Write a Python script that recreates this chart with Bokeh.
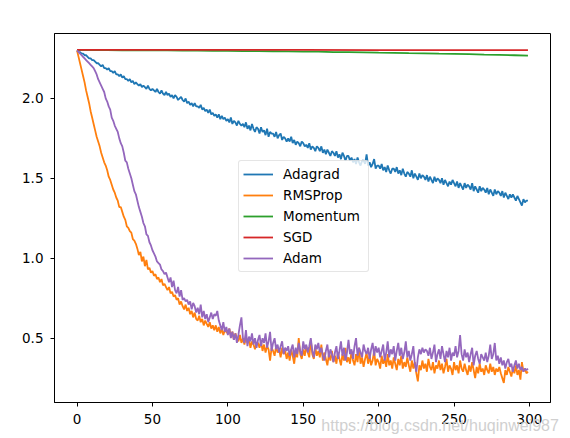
from bokeh.plotting import figure
from bokeh.models import Range1d, FixedTicker, PrintfTickFormatter, Label
from bokeh.embed import file_html
from bokeh.resources import INLINE

# ---------------- data ----------------
steps = list(range(300))

adagrad = [
    2.30, 2.29, 2.29, 2.28, 2.28, 2.27, 2.27, 2.26, 2.25, 2.25,
    2.24, 2.24, 2.23, 2.22, 2.22, 2.21, 2.20, 2.21, 2.19, 2.19,
    2.18, 2.19, 2.17, 2.17, 2.16, 2.17, 2.15, 2.15, 2.14, 2.15,
    2.13, 2.14, 2.12, 2.12, 2.11, 2.12, 2.10, 2.11, 2.09, 2.10,
    2.09, 2.08, 2.09, 2.07, 2.08, 2.07, 2.06, 2.08, 2.06, 2.05,
    2.06, 2.05, 2.04, 2.06, 2.04, 2.03, 2.05, 2.03, 2.02, 2.04,
    2.02, 2.03, 2.01, 2.02, 2.00, 2.02, 2.01, 1.99, 2.00, 2.01,
    1.99, 1.98, 2.00, 1.97, 1.98, 1.96, 1.97, 1.95, 1.97, 1.95,
    1.95, 1.94, 1.96, 1.93, 1.94, 1.92, 1.93, 1.91, 1.93, 1.90,
    1.91, 1.89, 1.90, 1.88, 1.90, 1.87, 1.89, 1.87, 1.88, 1.86,
    1.87, 1.85, 1.88, 1.84, 1.86, 1.85, 1.83, 1.86, 1.84, 1.83,
    1.84, 1.82, 1.85, 1.81, 1.83, 1.80, 1.84, 1.81, 1.79, 1.82,
    1.81, 1.78, 1.82, 1.79, 1.80, 1.77, 1.81, 1.76, 1.79, 1.78,
    1.78, 1.76, 1.79, 1.75, 1.77, 1.78, 1.74, 1.76, 1.75, 1.73,
    1.75, 1.73, 1.76, 1.72, 1.74, 1.71, 1.73, 1.72, 1.70, 1.73,
    1.72, 1.70, 1.71, 1.69, 1.72, 1.68, 1.70, 1.69, 1.67, 1.70,
    1.69, 1.67, 1.70, 1.66, 1.68, 1.65, 1.68, 1.66, 1.64, 1.67,
    1.66, 1.64, 1.67, 1.63, 1.65, 1.62, 1.66, 1.64, 1.61, 1.64,
    1.64, 1.61, 1.63, 1.60, 1.62, 1.59, 1.63, 1.60, 1.58, 1.61,
    1.61, 1.59, 1.65, 1.58, 1.60, 1.57, 1.59, 1.62, 1.56, 1.58,
    1.58, 1.56, 1.59, 1.55, 1.57, 1.54, 1.58, 1.55, 1.53, 1.56,
    1.56, 1.54, 1.57, 1.53, 1.55, 1.52, 1.56, 1.53, 1.51, 1.54,
    1.53, 1.51, 1.55, 1.50, 1.53, 1.51, 1.49, 1.53, 1.50, 1.52,
    1.51, 1.49, 1.52, 1.48, 1.51, 1.49, 1.47, 1.51, 1.48, 1.50,
    1.49, 1.47, 1.50, 1.46, 1.49, 1.47, 1.45, 1.48, 1.46, 1.49,
    1.47, 1.45, 1.48, 1.44, 1.47, 1.45, 1.43, 1.47, 1.44, 1.46,
    1.45, 1.43, 1.47, 1.42, 1.45, 1.43, 1.41, 1.45, 1.42, 1.44,
    1.43, 1.41, 1.44, 1.40, 1.43, 1.41, 1.39, 1.43, 1.40, 1.42,
    1.41, 1.39, 1.42, 1.38, 1.41, 1.39, 1.37, 1.40, 1.38, 1.40,
    1.38, 1.36, 1.39, 1.37, 1.35, 1.33, 1.37, 1.35, 1.36, 1.36,
]

rmsprop = [
    2.30, 2.26, 2.22, 2.18, 2.14, 2.10, 2.05, 2.01, 1.97, 1.92,
    1.88, 1.84, 1.80, 1.76, 1.73, 1.70, 1.66, 1.63, 1.60, 1.58,
    1.55, 1.51, 1.49, 1.46, 1.43, 1.41, 1.38, 1.36, 1.32, 1.32,
    1.29, 1.26, 1.24, 1.20, 1.19, 1.17, 1.16, 1.12, 1.11, 1.09,
    1.06, 1.02, 1.04, 0.98, 1.01, 0.95, 0.99, 0.93, 0.94, 0.91,
    0.92, 0.89, 0.90, 0.87, 0.88, 0.85, 0.87, 0.83, 0.84, 0.82,
    0.80, 0.82, 0.78, 0.79, 0.76, 0.77, 0.74, 0.75, 0.71, 0.73,
    0.70, 0.68, 0.71, 0.67, 0.69, 0.65, 0.67, 0.63, 0.66, 0.62,
    0.61, 0.64, 0.60, 0.62, 0.58, 0.61, 0.59, 0.57, 0.60, 0.56,
    0.58, 0.55, 0.58, 0.54, 0.57, 0.53, 0.56, 0.52, 0.55, 0.54,
    0.53, 0.56, 0.51, 0.54, 0.49, 0.53, 0.50, 0.48, 0.52, 0.47,
    0.50, 0.46, 0.51, 0.47, 0.49, 0.44, 0.48, 0.46, 0.43, 0.47,
    0.47, 0.44, 0.48, 0.42, 0.46, 0.41, 0.45, 0.43, 0.36, 0.44,
    0.42, 0.39, 0.45, 0.41, 0.43, 0.38, 0.44, 0.40, 0.42, 0.37,
    0.41, 0.36, 0.43, 0.39, 0.34, 0.42, 0.38, 0.50, 0.40, 0.37,
    0.43, 0.39, 0.45, 0.41, 0.38, 0.49, 0.40, 0.37, 0.44, 0.39,
    0.42, 0.38, 0.46, 0.36, 0.41, 0.37, 0.33, 0.40, 0.36, 0.42,
    0.35, 0.39, 0.34, 0.41, 0.37, 0.33, 0.40, 0.36, 0.44, 0.35,
    0.38, 0.34, 0.42, 0.36, 0.33, 0.40, 0.35, 0.44, 0.34, 0.38,
    0.32, 0.37, 0.41, 0.34, 0.39, 0.33, 0.36, 0.42, 0.33, 0.37,
    0.35, 0.31, 0.39, 0.34, 0.37, 0.32, 0.40, 0.33, 0.36, 0.31,
    0.38, 0.34, 0.30, 0.37, 0.33, 0.39, 0.31, 0.35, 0.32, 0.38,
    0.33, 0.29, 0.36, 0.31, 0.35, 0.28, 0.23, 0.33, 0.30, 0.36,
    0.31, 0.34, 0.29, 0.37, 0.32, 0.30, 0.35, 0.28, 0.33, 0.31,
    0.36, 0.30, 0.34, 0.28, 0.32, 0.37, 0.29, 0.33, 0.31, 0.27,
    0.35, 0.30, 0.33, 0.28, 0.36, 0.31, 0.29, 0.34, 0.30, 0.27,
    0.33, 0.29, 0.35, 0.30, 0.25, 0.32, 0.28, 0.34, 0.29, 0.31,
    0.27, 0.33, 0.30, 0.28, 0.34, 0.29, 0.32, 0.27, 0.31, 0.29,
    0.32, 0.28, 0.25, 0.22, 0.30, 0.27, 0.32, 0.29, 0.26, 0.31,
    0.28, 0.33, 0.27, 0.30, 0.24, 0.35, 0.29, 0.31, 0.28, 0.29,
]

adam = [
    2.30, 2.29, 2.28, 2.27, 2.26, 2.25, 2.24, 2.23, 2.22, 2.21,
    2.20, 2.19, 2.17, 2.15, 2.12, 2.10, 2.08, 2.06, 2.04, 2.00,
    1.98, 1.95, 1.93, 1.88, 1.86, 1.83, 1.81, 1.79, 1.75, 1.72,
    1.70, 1.66, 1.61, 1.60, 1.56, 1.53, 1.50, 1.46, 1.42, 1.40,
    1.36, 1.32, 1.29, 1.26, 1.22, 1.20, 1.15, 1.14, 1.10, 1.08,
    1.05, 1.03, 1.01, 0.98, 0.97, 0.96, 0.93, 0.92, 0.90, 0.91,
    0.88, 0.85, 0.88, 0.82, 0.86, 0.80, 0.78, 0.82, 0.76, 0.80,
    0.74, 0.75, 0.73, 0.74, 0.71, 0.73, 0.68, 0.72, 0.70, 0.66,
    0.69, 0.65, 0.71, 0.63, 0.67, 0.62, 0.65, 0.60, 0.63, 0.66,
    0.62, 0.65, 0.64, 0.67, 0.61, 0.58, 0.55, 0.60, 0.54, 0.57,
    0.52, 0.56, 0.50, 0.54, 0.49, 0.53, 0.47, 0.52, 0.58, 0.63,
    0.50, 0.47, 0.55, 0.45, 0.51, 0.48, 0.53, 0.46, 0.50, 0.44,
    0.49, 0.52, 0.45, 0.50, 0.47, 0.53, 0.44, 0.48, 0.54, 0.42,
    0.47, 0.50, 0.43, 0.46, 0.41, 0.45, 0.48, 0.40, 0.44, 0.42,
    0.45, 0.39, 0.43, 0.46, 0.38, 0.44, 0.40, 0.47, 0.42, 0.39,
    0.48, 0.43, 0.46, 0.41, 0.45, 0.50, 0.42, 0.38, 0.46, 0.43,
    0.47, 0.41, 0.44, 0.39, 0.36, 0.42, 0.46, 0.38, 0.43, 0.40,
    0.35, 0.41, 0.45, 0.37, 0.42, 0.48, 0.39, 0.44, 0.36, 0.41,
    0.49, 0.40, 0.43, 0.37, 0.45, 0.50, 0.39, 0.44, 0.41, 0.38,
    0.46, 0.42, 0.40, 0.44, 0.37, 0.43, 0.47, 0.39, 0.45, 0.41,
    0.44, 0.38, 0.42, 0.46, 0.36, 0.41, 0.48, 0.38, 0.43, 0.40,
    0.45, 0.36, 0.42, 0.47, 0.39, 0.44, 0.37, 0.41, 0.48, 0.38,
    0.42, 0.36, 0.40, 0.45, 0.34, 0.29, 0.38, 0.43, 0.40, 0.44,
    0.41, 0.43, 0.42, 0.39, 0.44, 0.37, 0.41, 0.46, 0.35, 0.40,
    0.43, 0.37, 0.45, 0.40, 0.35, 0.42, 0.38, 0.44, 0.36, 0.41,
    0.39, 0.45, 0.38, 0.42, 0.52, 0.40, 0.36, 0.43, 0.38, 0.41,
    0.35, 0.40, 0.44, 0.33, 0.39, 0.42, 0.37, 0.34, 0.40, 0.38,
    0.36, 0.41, 0.35, 0.39, 0.46, 0.37, 0.40, 0.47, 0.36, 0.39,
    0.34, 0.38, 0.33, 0.36, 0.31, 0.35, 0.37, 0.32, 0.34, 0.29,
    0.33, 0.36, 0.31, 0.34, 0.30, 0.32, 0.29, 0.31, 0.30, 0.31,
]

momentum_steps = [0, 10, 20, 30, 40, 50, 60, 70, 80, 90, 100, 110, 120, 130, 140,
                  150, 160, 170, 180, 190, 200, 210, 220, 230, 240, 250, 260, 270,
                  280, 290, 299]
momentum = [2.302, 2.302, 2.302, 2.301, 2.301, 2.300, 2.300, 2.299, 2.299, 2.298,
            2.297, 2.296, 2.296, 2.295, 2.294, 2.293, 2.292, 2.290, 2.289, 2.288,
            2.286, 2.285, 2.283, 2.282, 2.280, 2.279, 2.277, 2.274, 2.272, 2.270,
            2.267]

sgd_steps = [0, 50, 100, 150, 200, 250, 299]
sgd = [2.303, 2.303, 2.303, 2.303, 2.302, 2.302, 2.302]

x_ticks = [0, 50, 100, 150, 200, 250, 300]
y_ticks = [0.5, 1.0, 1.5, 2.0]

# ---------------- figure ----------------
FONT = "DejaVu Sans"
p = figure(width=570, height=438, output_backend="svg", toolbar_location=None,
           x_range=Range1d(-14.95, 313.95), y_range=Range1d(0.0975, 2.406),
           min_border_left=54, min_border_right=20, min_border_top=33,
           min_border_bottom=36)
p.background_fill_color = "white"
p.border_fill_color = "white"
p.outline_line_color = "black"
p.outline_line_width = 1
p.grid.visible = False

for ax in (p.xaxis[0], p.yaxis[0]):
    ax.axis_line_color = "black"
    ax.major_tick_line_color = "black"
    ax.major_tick_out = 4
    ax.major_tick_in = 0
    ax.minor_tick_line_color = None
    ax.major_label_text_font = FONT
    ax.major_label_text_font_size = "13.5px"
    ax.major_label_text_color = "black"

p.xaxis.ticker = FixedTicker(ticks=x_ticks)
p.xaxis.formatter = PrintfTickFormatter(format="%d")
p.xaxis.major_label_standoff = 7
p.yaxis.ticker = FixedTicker(ticks=y_ticks)
p.yaxis.formatter = PrintfTickFormatter(format="%.1f")
p.yaxis.major_label_standoff = 7

LW = 1.8
p.line(steps, adagrad, color="#1f77b4", line_width=LW, legend_label="Adagrad")
p.line(steps, rmsprop, color="#ff7f0e", line_width=LW, legend_label="RMSProp")
p.line(momentum_steps, momentum, color="#2ca02c", line_width=LW, legend_label="Momentum")
p.line(sgd_steps, sgd, color="#d62728", line_width=LW, legend_label="SGD")
p.line(steps, adam, color="#9467bd", line_width=LW, legend_label="Adam")

lg = p.legend[0]
lg.location = (184, 130)
lg.label_text_font = FONT
lg.label_text_font_size = "13.5px"
lg.label_text_color = "black"
lg.glyph_width = 30
lg.glyph_height = 18
lg.label_height = 18
lg.label_width = 81
lg.label_standoff = 10
lg.spacing = 3
lg.padding = 4
lg.margin = 0
lg.border_line_color = "#cccccc"
lg.border_line_width = 1
lg.border_radius = 3
lg.background_fill_color = "white"
lg.background_fill_alpha = 0.8

# watermark placed in the (roomy) top panel so the frame keeps its size,
# then shifted down to the bottom edge of the picture
wm = Label(x=162.0, y=-392, y_units="screen",
           text="https://blog.csdn.net/huqinwei987",
           text_font="Liberation Sans", text_font_size="16px",
           text_color="#d0d0d0", text_baseline="alphabetic")
p.add_layout(wm, "above")

open("out.html", "w").write(file_html(p, INLINE))
